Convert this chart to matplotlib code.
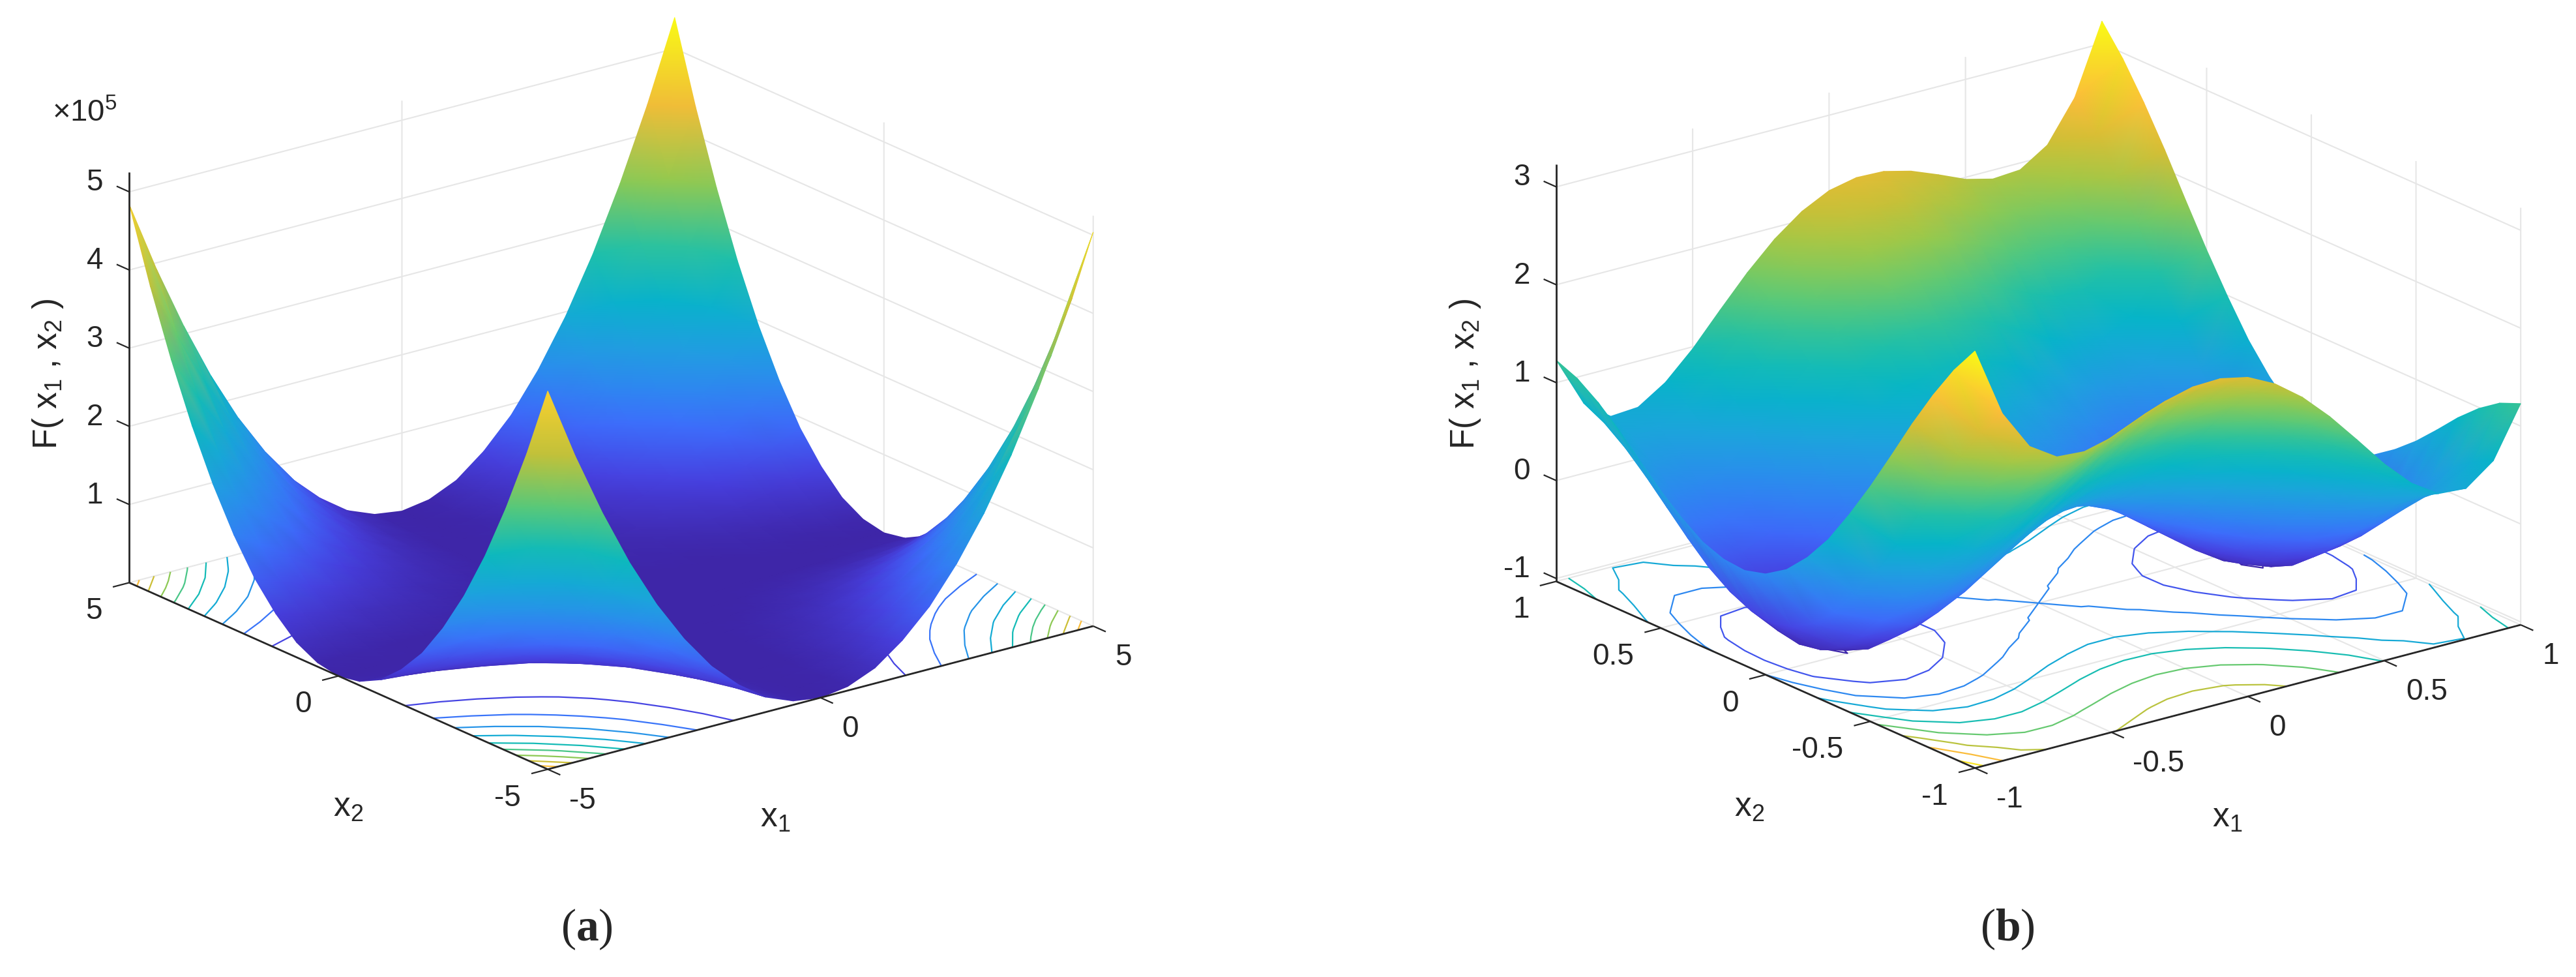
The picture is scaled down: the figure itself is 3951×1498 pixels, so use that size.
import numpy as np
import matplotlib
matplotlib.use("Agg")
import matplotlib.pyplot as plt
import matplotlib.tri as mtri
from matplotlib.colors import LinearSegmentedColormap
from mpl_toolkits.mplot3d import proj3d

W, H = 3951, 1498

# colours of the surface, low to high
parula_colors = ["#3E26A8", "#4740E0", "#3D6DFC", "#2B8CEE", "#1CA4DC", "#06B5C8", "#20C0A8",
                 "#5CC977", "#9CC94A", "#D2BE34", "#FBBC3A", "#F9D62A", "#F9FB15"]

# panel (a): one quadrant, rows |x2| = 0, 0.5 ... 5, columns |x1| = 0, 0.5 ... 5 (x 1e5)
a_x1 = [-5.0, -4.5, -4.0, -3.5, -3.0, -2.5, -2.0, -1.5, -1.0, -0.5, 0.0,
        0.5, 1.0, 1.5, 2.0, 2.5, 3.0, 3.5, 4.0, 4.5, 5.0]
a_x2 = list(a_x1)
a_quadrant = [
    [0, 0.00, 0.00, 0.00, 0.00, 0.00, 0.00, 0.00, 0.00, 0.00, 0.00],
    [0, 0.00, 0.00, 0.00, 0.01, 0.01, 0.02, 0.02, 0.03, 0.04, 0.05],
    [0, 0.00, 0.01, 0.02, 0.03, 0.05, 0.07, 0.09, 0.12, 0.16, 0.19],
    [0, 0.00, 0.02, 0.04, 0.07, 0.11, 0.16, 0.21, 0.28, 0.35, 0.44],
    [0, 0.01, 0.03, 0.07, 0.12, 0.19, 0.28, 0.38, 0.50, 0.63, 0.77],
    [0, 0.01, 0.05, 0.11, 0.19, 0.30, 0.44, 0.59, 0.77, 0.98, 1.21],
    [0, 0.02, 0.07, 0.16, 0.28, 0.44, 0.63, 0.85, 1.12, 1.41, 1.74],
    [0, 0.02, 0.09, 0.21, 0.38, 0.59, 0.85, 1.16, 1.52, 1.92, 2.37],
    [0, 0.03, 0.12, 0.28, 0.50, 0.77, 1.12, 1.52, 1.98, 2.51, 3.10],
    [0, 0.04, 0.16, 0.35, 0.63, 0.98, 1.41, 1.92, 2.51, 3.18, 3.92],
    [0, 0.05, 0.19, 0.44, 0.77, 1.21, 1.74, 2.37, 3.10, 3.92, 4.84],
]
# height of each corner: front, left, right, back
a_corners = [4.84, 4.84, 5.04, 5.40]
a_levels = [0.5, 1.0, 1.5, 2.0, 2.5, 3.0, 3.5, 4.0, 4.5, 5.0]

# panel (b): rows x2 = -1 ... 0, columns x1 = -1 ... 1, the other half is the point mirror
b_x1 = [-1.0, -0.9, -0.8, -0.7, -0.6, -0.5, -0.4, -0.3, -0.2, -0.1, 0.0,
        0.1, 0.2, 0.3, 0.4, 0.5, 0.6, 0.7, 0.8, 0.9, 1.0]
b_x2 = list(b_x1)
b_half = [
    [3.23, 2.52, 2.11, 1.93, 1.91, 1.98, 2.10, 2.21, 2.28, 2.29, 2.23, 2.09, 1.88, 1.61, 1.30, 0.98, 0.71, 0.53, 0.51, 0.72, 1.23],
    [2.94, 2.23, 1.84, 1.67, 1.66, 1.74, 1.86, 1.98, 2.07, 2.09, 2.04, 1.91, 1.71, 1.44, 1.14, 0.84, 0.58, 0.41, 0.40, 0.61, 1.14],
    [2.59, 1.89, 1.51, 1.35, 1.35, 1.44, 1.57, 1.70, 1.79, 1.83, 1.79, 1.67, 1.47, 1.22, 0.93, 0.64, 0.39, 0.23, 0.23, 0.45, 0.99],
    [2.20, 1.51, 1.13, 0.99, 0.99, 1.10, 1.24, 1.38, 1.48, 1.53, 1.50, 1.39, 1.20, 0.96, 0.68, 0.40, 0.15, 0.01, 0.01, 0.25, 0.80],
    [1.78, 1.11, 0.74, 0.60, 0.62, 0.73, 0.89, 1.04, 1.15, 1.20, 1.18, 1.08, 0.91, 0.68, 0.41, 0.13, -0.10, -0.24, -0.22, 0.03, 0.58],
    [1.37, 0.71, 0.35, 0.22, 0.25, 0.37, 0.54, 0.70, 0.82, 0.88, 0.87, 0.78, 0.62, 0.40, 0.14, -0.13, -0.35, -0.48, -0.45, -0.19, 0.37],
    [0.99, 0.33, -0.01, -0.13, -0.09, 0.04, 0.21, 0.38, 0.51, 0.59, 0.59, 0.51, 0.35, 0.14, -0.11, -0.36, -0.57, -0.69, -0.65, -0.39, 0.19],
    [0.64, 0.00, -0.34, -0.45, -0.40, -0.26, -0.07, 0.11, 0.25, 0.33, 0.34, 0.27, 0.13, -0.07, -0.31, -0.56, -0.76, -0.87, -0.82, -0.54, 0.04],
    [0.36, -0.28, -0.60, -0.70, -0.64, -0.49, -0.30, -0.11, 0.04, 0.14, 0.16, 0.10, -0.04, -0.23, -0.46, -0.69, -0.88, -0.98, -0.92, -0.64, -0.04],
    [0.14, -0.49, -0.80, -0.89, -0.82, -0.66, -0.46, -0.26, -0.09, 0.01, 0.04, -0.01, -0.13, -0.32, -0.54, -0.76, -0.94, -1.03, -0.96, -0.67, -0.06],
    [0.00, -0.62, -0.92, -1.00, -0.92, -0.75, -0.54, -0.33, -0.15, -0.04, 0.00, -0.04, -0.15, -0.33, -0.54, -0.75, -0.92, -1.00, -0.92, -0.62, 0.00],
]
b_levels = [-1.0, -0.5, 0.0, 0.5, 1.0, 1.5, 2.0, 2.5, 3.0]

plt.rcParams["font.family"] = ["Liberation Sans", "DejaVu Sans"]
plt.rcParams["mathtext.fontset"] = "custom"
plt.rcParams["mathtext.rm"] = "Liberation Sans"
plt.rcParams["mathtext.it"] = "Liberation Sans"
plt.rcParams["mathtext.bf"] = "Liberation Serif:bold"
plt.rcParams["grid.color"] = "#e6e6e6"
plt.rcParams["grid.linewidth"] = 1.5

FS = 33
INK = "#262626"
parula = LinearSegmentedColormap.from_list("parula", parula_colors, N=256)


def fig_text(fig, px, py, s, **kw):
    # px, py are pixels from the top left of the figure
    fig.text(px / W, 1 - py / H, s, ha=kw.pop("ha", "center"), va=kw.pop("va", "center"),
             fontsize=kw.pop("fontsize", FS), color=INK, **kw)


def to_pixels(ax, xs, ys, zs):
    # 3d data -> figure pixels, also gives the depth used for sorting
    tx, ty, tz = proj3d.proj_transform(np.ravel(xs), np.ravel(ys), np.ravel(zs), ax.get_proj())
    pts = ax.transData.transform(np.column_stack([tx, ty]))
    return pts[:, 0], pts[:, 1], tz


def draw_surface(over, ax, xx, yy, z, zlim):
    # gouraud triangles on the overlay, painted far to near over the floor position
    px, py, _ = to_pixels(ax, xx, yy, z)
    _, _, depth = to_pixels(ax, xx, yy, np.full(z.shape, zlim[0]))
    nr, nc = z.shape
    idx = np.arange(nr * nc).reshape(nr, nc)
    a, b, c, d = idx[:-1, :-1].ravel(), idx[:-1, 1:].ravel(), idx[1:, :-1].ravel(), idx[1:, 1:].ravel()
    tris = np.vstack([np.column_stack([a, b, c]), np.column_stack([b, d, c])])
    order = np.argsort(-depth[tris].mean(axis=1), kind="stable")
    tri = mtri.Triangulation(px, py, triangles=tris[order])
    over.tripcolor(tri, z.ravel(), shading="gouraud", cmap=parula, vmin=z.min(), vmax=z.max(), zorder=2)


def draw_panel(fig, over, rect, x1, x2, z, zlim, levels, xticks, xlabels, zticks, zlabels, aspect):
    left, bottom, size = rect
    ax = fig.add_axes([left / W, bottom / H, size / W, size / H], projection="3d")
    ax.computed_zorder = False
    ax.patch.set_alpha(0)
    ax.view_init(elev=20, azim=-127.5)
    ax.set_proj_type("ortho")
    ax.set_box_aspect((1, 1, aspect))
    ax.set_xlim(x1[0], x1[-1])
    ax.set_ylim(x2[0], x2[-1])
    ax.set_zlim(*zlim)
    ax.apply_aspect()

    for axis, ticks in ((ax.xaxis, xticks), (ax.yaxis, xticks), (ax.zaxis, zticks)):
        axis.set_ticks(ticks)
        axis.set_ticklabels([])
        axis.set_pane_color((1, 1, 1, 0))
        axis.pane.set_edgecolor((1, 1, 1, 0))
        axis.line.set_color((1, 1, 1, 0))
        axis._axinfo["tick"]["inward_factor"] = 0
        axis._axinfo["tick"]["outward_factor"] = 0
    ax.tick_params(axis="both", color=(1, 1, 1, 0))

    xx, yy = np.meshgrid(x1, x2)
    ax.contour(xx, yy, z, levels=levels, zdir="z", offset=zlim[0], cmap=parula,
               vmin=z.min(), vmax=z.max(), linewidths=1.6, zorder=1)
    draw_surface(over, ax, xx, yy, z, zlim)

    # axis lines and ticks, MATLAB puts them on the front floor edges
    x0, x9 = x1[0], x1[-1]
    y0, y9 = x2[0], x2[-1]
    z0 = zlim[0]
    tl = (x9 - x0) * 0.03

    def line(xs, ys, zs, lw):
        px, py, _ = to_pixels(ax, xs, ys, zs)
        over.plot(px, py, color=INK, lw=lw, zorder=3, solid_capstyle="butt")

    def label(xd, yd, zd, s, off, ha):
        px, py, _ = to_pixels(ax, [xd], [yd], [zd])
        over.annotate(s, xy=(px[0], py[0]), xycoords="data", xytext=off, textcoords="offset pixels",
                      ha=ha, va="center", fontsize=FS, color=INK, annotation_clip=False, zorder=4)

    line([x0, x9], [y0, y0], [z0, z0], 2)
    line([x0, x0], [y0, y9], [z0, z0], 2)
    line([x0, x0], [y9, y9], list(zlim), 2)
    for t, s in zip(xticks, xlabels):
        line([t, t], [y0, y0 - tl], [z0, z0], 1.6)
        line([x0, x0 - tl], [t, t], [z0, z0], 1.6)
        label(t, y0, z0, s, (33, -48), "left")
        label(x0, t, z0, s, (-41, -44), "right")
    for t, s in zip(zticks, zlabels):
        line([x0, x0], [y9, y9 + tl], [t, t], 1.6)
        label(x0, y9, t, s, (-40, 14), "right")
    return ax


# mirror the quadrant into the four corners of panel (a)
q = np.array(a_quadrant)
s_front, s_left, s_right, s_back = np.array(a_corners) / a_corners[0]
z_a = np.vstack([
    np.hstack([q[::-1, ::-1] * s_front, q[::-1, 1:] * s_right]),
    np.hstack([q[1:, ::-1] * s_left, q[1:, 1:] * s_back]),
])
half = np.array(b_half)
z_b = np.vstack([half, half[-2::-1, ::-1]])

fig = plt.figure(figsize=(W / 100, H / 100), dpi=100, facecolor="white")
over = fig.add_axes([0, 0, 1, 1], zorder=5)
over.patch.set_alpha(0)
over.axis("off")

draw_panel(fig, over, (122.5, 71, 1587), a_x1, a_x2, z_a, (0, 5.25), a_levels,
           [-5, 0, 5], ["-5", "0", "5"], [1, 2, 3, 4, 5], ["1", "2", "3", "4", "5"], 0.635)
draw_panel(fig, over, (2309, 75.5, 1592), b_x1, b_x2, z_b, (-1.03, 3.23), b_levels,
           [-1, -0.5, 0, 0.5, 1], ["-1", "-0.5", "0", "0.5", "1"],
           [-1, 0, 1, 2, 3], ["-1", "0", "1", "2", "3"], 0.645)
over.set_xlim(0, W)
over.set_ylim(0, H)

fig_text(fig, 180, 174, "\u00d710$^{5}$", ha="right", fontsize=34)
fig_text(fig, 73, 574, "F( x$_1$ , x$_2$ )", rotation=90, fontsize=37)
fig_text(fig, 534, 1238, "x$_2$", fontsize=37)
fig_text(fig, 1189, 1254, "x$_1$", fontsize=37)
fig_text(fig, 2247, 574, "F( x$_1$ , x$_2$ )", rotation=90, fontsize=37)
fig_text(fig, 2683, 1238, "x$_2$", fontsize=37)
fig_text(fig, 3416, 1254, "x$_1$", fontsize=37)
fig_text(fig, 900, 1425, r"($\mathbf{a}$)", fontsize=50, family="Liberation Serif")
fig_text(fig, 3079, 1425, r"($\mathbf{b}$)", fontsize=50, family="Liberation Serif")

fig.savefig("out.png", dpi=100, facecolor="white")
